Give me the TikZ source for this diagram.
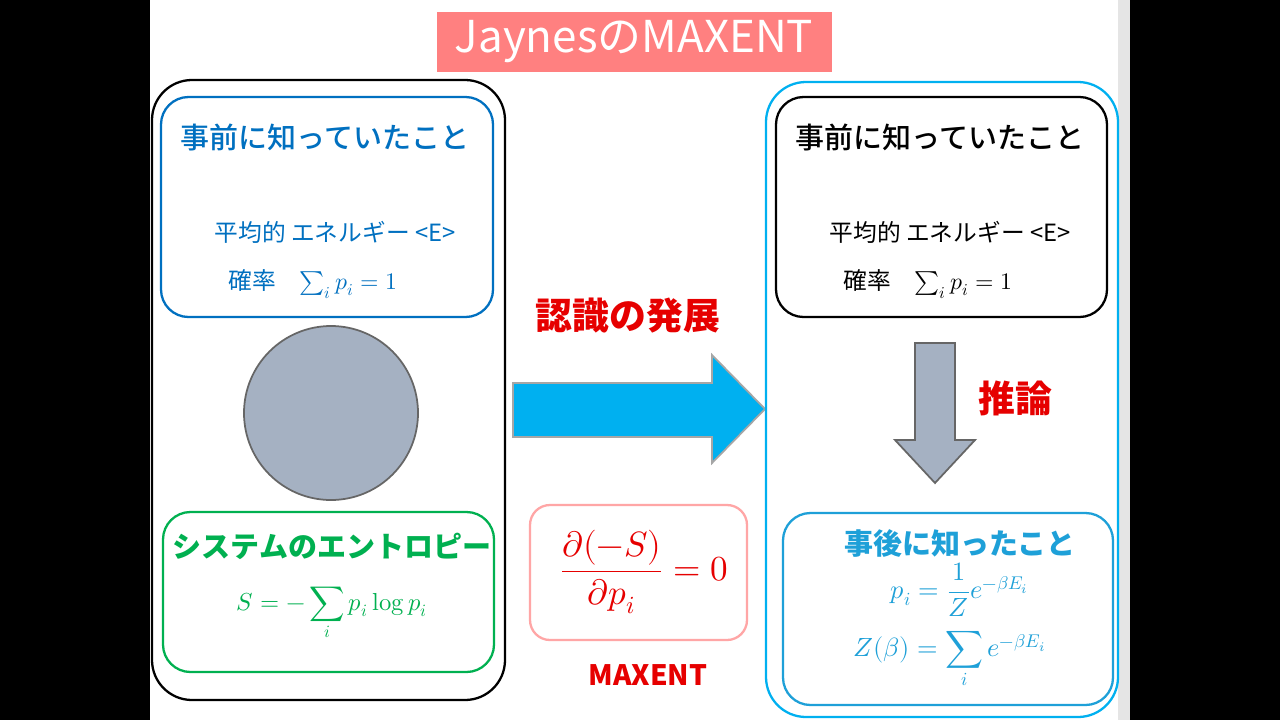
\documentclass[tikz,border=0pt]{standalone}
\usepackage{amsmath}
\usepackage{fontspec}
\setmainfont{Noto Sans CJK JP}
\newfontfamily\jpm{Noto Sans CJK JP Medium}
\usepackage{unicode-math}
\setmathfont{Latin Modern Math}
\definecolor{dblue}{RGB}{0,112,192}
\definecolor{sky}{RGB}{0,176,240}
\definecolor{lblue}{RGB}{30,160,216}
\definecolor{grn}{RGB}{0,176,80}
\definecolor{rd}{RGB}{230,0,0}
\definecolor{pinkf}{RGB}{255,128,128}
\definecolor{grayb}{RGB}{165,177,194}
\begin{document}
\begin{tikzpicture}[x=0.02cm,y=-0.02cm,
  box/.style={draw,line width=1.3pt,rounded corners=0.55cm},
  fs/.style={font=\fontsize{#1}{#1}\selectfont}]
\useasboundingbox (0,0) rectangle (1280,720);
\fill[white] (0,0) rectangle (1280,720);
\fill[black] (0,0) rectangle (150,720);
\fill[black] (1130,0) rectangle (1280,720);
\fill[black!10] (1118,0) rectangle (1130,720);
% title
\node[fill=pinkf,minimum width=395*0.02cm,minimum height=60*0.02cm,text=white,fs=25pt] (title) at (634,42) {JaynesのMAXENT};
% left
\draw[box,black,rounded corners=0.8cm] (152,80) rectangle (505,700);
\draw[box,dblue] (161,97) rectangle (493,317);
\node[text=dblue,fs=16.5pt] (a1) at (325,137) {\jpm 事前に知っていたこと};
\node[text=dblue,fs=13.5pt] (a2) at (335,232) {平均的 エネルギー <E>};
\node[text=dblue,fs=13.5pt] (a3) at (313,284) {確率\quad $\sum_i p_i=1$};
\node[circle,draw=gray!80!black,fill=grayb,minimum size=174*0.02cm,line width=1pt] (c) at (331,413) {};
\draw[box,grn] (163,512) rectangle (494,672);
\node[text=grn,fs=16.5pt] (g1) at (332,546) {\bfseries システムのエントロピー};
\node[text=grn,fs=14pt] (g2) at (332,614) {$S=-\displaystyle\sum_i p_i\,\symup{log}\, p_i$};
% middle
\node[text=rd,fs=21pt] (m1) at (628,316) {\bfseries 認識の発展};
\draw[fill=sky,draw=gray!70,line width=1pt] (513,383) -- (712,383) -- (712,355) -- (765,409) -- (712,463) -- (712,437) -- (513,437) -- cycle;
\draw[draw=pinkf!70,line width=1.3pt,rounded corners=0.4cm] (530,505) rectangle (747,640);
\node[text=rd,fs=20pt] (f) at (644,572) {$\dfrac{\partial(-S)}{\partial p_i}=0$};
\node[text=rd,fs=16pt] (mx) at (648,675) {\bfseries MAXENT};
% right
\draw[box,sky,rounded corners=0.8cm] (766,82) rectangle (1118,717);
\draw[box,black] (776,97) rectangle (1107,317);
\node[fs=16.5pt] (b1) at (940,137) {\jpm 事前に知っていたこと};
\node[fs=13.5pt] (b2) at (950,232) {平均的 エネルギー <E>};
\node[fs=13.5pt] (b3) at (928,284) {確率\quad $\sum_i p_i=1$};
\draw[fill=grayb,draw=gray!80!black,line width=1pt] (915,343) -- (955,343) -- (955,440) -- (975,440) -- (935,483) -- (895,440) -- (915,440) -- cycle;
\node[text=rd,fs=21pt] (inf) at (1015,398) {\bfseries 推論};
\draw[box,lblue] (783,513) rectangle (1113,705);
\node[text=lblue,fs=16.5pt] (p1) at (960,543) {\bfseries 事後に知ったこと};
\node[text=lblue,fs=15pt] (p2) at (960,590) {$p_i=\dfrac{1}{Z}e^{-\beta E_i}$};
\node[text=lblue,fs=15pt] (p3) at (950,660) {$Z(\beta)=\displaystyle\sum_i e^{-\beta E_i}$};
\end{tikzpicture}
\end{document}
